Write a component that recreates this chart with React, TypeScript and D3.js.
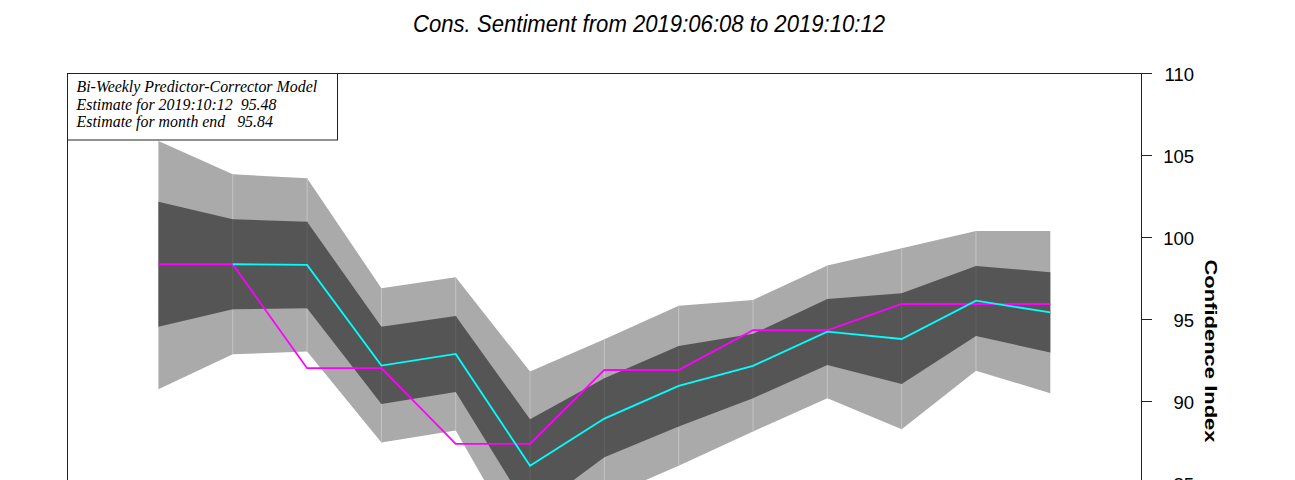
import React from 'react';
import * as d3 from 'd3';

// ---- data ----
const periods = [0, 1, 2, 3, 4, 5, 6, 7, 8, 9, 10, 11, 12];
const outerHi = [105.92, 103.89, 103.65, 96.95, 97.62, 91.87, 93.84, 95.89, 96.24, 98.33, 99.38, 100.44, 100.44];
const innerHi = [102.22, 101.15, 101.0, 94.61, 95.26, 88.97, 91.47, 93.43, 94.17, 96.3, 96.64, 98.31, 97.92];
const innerLo = [94.61, 95.67, 95.73, 89.9, 90.63, 83.29, 86.66, 88.52, 90.25, 92.28, 91.12, 94.04, 93.03];
const outerLo = [90.8, 92.93, 93.09, 87.55, 88.28, 80.39, 84.18, 86.13, 88.22, 90.25, 88.36, 91.93, 90.55];
const estimate: (number | null)[] = [null, 98.41, 98.37, 92.24, 92.95, 86.13, 89.01, 91.0, 92.22, 94.31, 93.86, 96.19, 95.48];
const actual = [98.41, 98.41, 92.08, 92.08, 87.47, 87.47, 91.97, 91.97, 94.39, 94.39, 95.99, 95.99, 95.99];
const yTicks = [85, 90, 95, 100, 105, 110];
const titleText = 'Cons. Sentiment from 2019:06:08 to 2019:10:12';
const yLabel = 'Confidence Index';
const legendLines = [
  'Bi-Weekly Predictor-Corrector Model',
  'Estimate for 2019:10:12  95.48',
  'Estimate for month end   95.84',
];

const W = 1295;
const H = 480;
const LEFT = 67;
const RIGHT = 1141;
const TOP = 74;

export default function App() {
  const x = d3.scaleLinear().domain([-1.23, 13.22]).range([LEFT, RIGHT]);
  const y = d3.scaleLinear().domain([85, 110]).range([484.4, TOP]);
  const idx = periods.map((_, i) => i);

  const outerArea = d3
    .area<number>()
    .x((i) => x(periods[i]))
    .y0((i) => y(outerLo[i]))
    .y1((i) => y(outerHi[i]));
  const innerArea = d3
    .area<number>()
    .x((i) => x(periods[i]))
    .y0((i) => y(innerLo[i]))
    .y1((i) => y(innerHi[i]));
  const estLine = d3
    .line<number>()
    .defined((i) => estimate[i] != null)
    .x((i) => x(periods[i]))
    .y((i) => y(estimate[i] as number));
  const actLine = d3
    .line<number>()
    .x((i) => x(periods[i]))
    .y((i) => y(actual[i]));

  const font = "'Liberation Sans', Arial, Helvetica, sans-serif";
  const serif = "'Liberation Serif', 'Times New Roman', serif";

  return (
    <svg
      width={W}
      height={H}
      style={{ position: 'absolute', left: 0, top: 0, background: '#fff' }}
    >
      <rect x={0} y={0} width={W} height={H} fill="#fff" />
      {/* bands */}
      <path d={outerArea(idx) || ''} fill="#aaaaaa" />
      {idx.slice(1, -1).map((i) => (
        <g key={'so' + i}>
          <line x1={x(periods[i])} x2={x(periods[i])} y1={y(outerHi[i])} y2={y(innerHi[i])} stroke="#c4c4c4" strokeWidth={1} />
          <line x1={x(periods[i])} x2={x(periods[i])} y1={y(innerLo[i])} y2={y(outerLo[i])} stroke="#c4c4c4" strokeWidth={1} />
        </g>
      ))}
      <path d={innerArea(idx) || ''} fill="#555555" />
      {idx.slice(1, -1).map((i) => (
        <line key={'si' + i} x1={x(periods[i])} x2={x(periods[i])} y1={y(innerHi[i])} y2={y(innerLo[i])} stroke="#626262" strokeWidth={1} />
      ))}
      {/* lines */}
      <path d={actLine(idx) || ''} fill="none" stroke="#ff00ff" strokeWidth={1.8} strokeLinejoin="miter" />
      <path d={estLine(idx) || ''} fill="none" stroke="#00ffff" strokeWidth={1.8} strokeLinejoin="miter" />

      {/* frame */}
      <line x1={LEFT + 0.5} x2={LEFT + 0.5} y1={TOP - 0.5} y2={H + 10} stroke="#222" strokeWidth={1} />
      <line x1={LEFT} x2={RIGHT} y1={TOP - 0.5} y2={TOP - 0.5} stroke="#222" strokeWidth={1} />
      {/* right axis */}
      <line x1={RIGHT + 0.5} x2={RIGHT + 0.5} y1={TOP - 0.5} y2={H + 10} stroke="#222" strokeWidth={1} />
      {yTicks.map((t) => (
        <g key={t}>
          <line x1={RIGHT} x2={RIGHT + 11} y1={Math.round(y(t)) - 0.5} y2={Math.round(y(t)) - 0.5} stroke="#222" strokeWidth={1} />
          <text
            x={1194}
            y={y(t)}
            dy="0.36em"
            textAnchor="end"
            fontFamily={font}
            fontSize={18.5}
            fill="#000"
          >
            {t}
          </text>
        </g>
      ))}
      <text
        transform={`translate(1205,351) rotate(90)`}
        textAnchor="middle"
        fontFamily={font}
        fontWeight="bold"
        fontSize={16.5}
        textLength={183}
        lengthAdjust="spacingAndGlyphs"
        fill="#000"
      >
        {yLabel}
      </text>

      {/* title */}
      <text
        x={413}
        y={32}
        fontFamily={font}
        fontStyle="italic"
        fontSize={23}
        textLength={472}
        lengthAdjust="spacingAndGlyphs"
        fill="#000"
      >
        {titleText}
      </text>

      {/* legend */}
      <rect x={LEFT + 0.5} y={TOP - 0.5} width={270} height={66.5} fill="#fff" stroke="#222" strokeWidth={1} />
      {legendLines.map((s, i) => (
        <text
          key={i}
          x={76.5}
          y={92.3 + i * 17.2}
          fontFamily={serif}
          fontStyle="italic"
          fontSize={15.9}
          fill="#000"
          style={{ whiteSpace: 'pre' }}
        >
          {s}
        </text>
      ))}
    </svg>
  );
}
